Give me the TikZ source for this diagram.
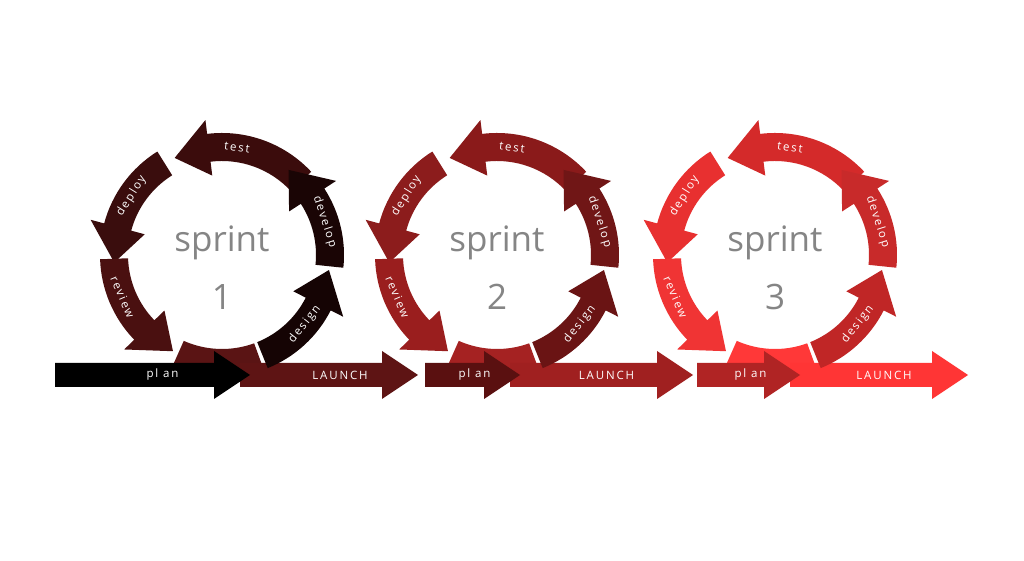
\documentclass[tikz,border=0pt]{standalone}
\usepackage{fontspec}
\setmainfont{Open Sans}
\newfontfamily\spaced[LetterSpace=16]{Open Sans}
\usetikzlibrary{calc}
\tikzset{lbl/.style={text=white,font=\spaced\fontsize{11.5}{13}\selectfont,inner sep=0pt},
 big/.style={text=black!48,font=\fontsize{35}{38}\selectfont,inner sep=0pt}}
\newcommand\carrow[5]{%
 \pgfmathsetmacro\hb{#4-19}%
 \fill[#5] ($(#1,#2)+(#3:122)$) arc[start angle=#3,end angle=\hb,radius=122]
  -- ($(#1,#2)+(\hb:136)$) -- ($(#1,#2)+(#4:108)$) -- ($(#1,#2)+(\hb:80)$)
  -- ($(#1,#2)+(\hb:94)$) arc[start angle=\hb,end angle=#3,radius=94] -- cycle;}
\newcommand\carc[5]{%
 \fill[#5] ($(#1,#2)+(#3:122)$) arc[start angle=#3,end angle=#4,radius=122]
  -- ($(#1,#2)+(#4:94)$) arc[start angle=#4,end angle=#3,radius=94] -- cycle;}
\newcommand\sarrow[4]{%
 \fill[#4] (#1,#3-12) -- (#2-36,#3-12) -- (#2-36,#3-24) -- (#2,#3) -- (#2-36,#3+24)
  -- (#2-36,#3+12) -- (#1,#3+12) -- cycle;}
\begin{document}
\begin{tikzpicture}[x=1pt,y=1pt]
\useasboundingbox (0,0) rectangle (1024,561);
\fill[white] (0,0) rectangle (1024,561);
\foreach \cx/\n/\pa/\pb/\lb/\ca/\cb/\cc/\cd/\ce/\cf/\cg/\ch in {
 222/1/55/250/418/3b0c0c/3a0d0d/4a1010/5a1414/150404/1a0505/000000/5e1414,
 497/2/425/520/693/8a1a1a/8c1c1c/9a1e1e/a52222/6a1414/701616/5a1010/a02020,
 775/3/697/800/968/d42a2a/e83030/f03434/ff3838/c02626/c82a2a/b02424/ff3535}{
 \definecolor{cA}{HTML}{\ca}\definecolor{cB}{HTML}{\cb}\definecolor{cC}{HTML}{\cc}
 \definecolor{cD}{HTML}{\cd}\definecolor{cE}{HTML}{\ce}\definecolor{cF}{HTML}{\cf}
 \definecolor{cG}{HTML}{\cg}\definecolor{cH}{HTML}{\ch}
 \carrow{\cx}{306}{43}{116}{cA}
 \carrow{\cx}{306}{122}{184}{cB}
 \carrow{\cx}{306}{182}{243}{cC}
 \carc{\cx}{306}{246}{290}{cD}
 \pgfmathsetmacro\lx{\pb-10}
 \sarrow{\lx}{\lb}{186}{cH}
 \sarrow{\pa}{\pb}{186}{cG}
 \carrow{\cx}{306}{-68}{-8}{cE}
 \carrow{\cx}{306}{-6}{52}{cF}
 \node[lbl,rotate=-8] at ($(\cx,306)+(82:108)$) {test};
 \node[lbl,rotate=58] at ($(\cx,306)+(147:108)$) {deploy};
 \node[lbl,rotate=-67] at ($(\cx,306)+(203:108)$) {review};
 \node[lbl,rotate=52] at ($(\cx,306)+(-40:108)$) {design};
 \node[lbl,rotate=-72] at ($(\cx,306)+(18:108)$) {develop};
 \pgfmathsetmacro\px{(\pa+\pb)/2-(\n==1?0:8)}
 \pgfmathsetmacro\qx{(\pb+\lb)/2+(\n==1?6:0)}
 \node[lbl] at (\px+10,186) {pl an};
 \node[lbl] at (\qx,186) {LAUNCH};
 \node[big] at (\cx,318) {sprint};
 \node[big] at (\cx,264) {\n};
}
\end{tikzpicture}
\end{document}
